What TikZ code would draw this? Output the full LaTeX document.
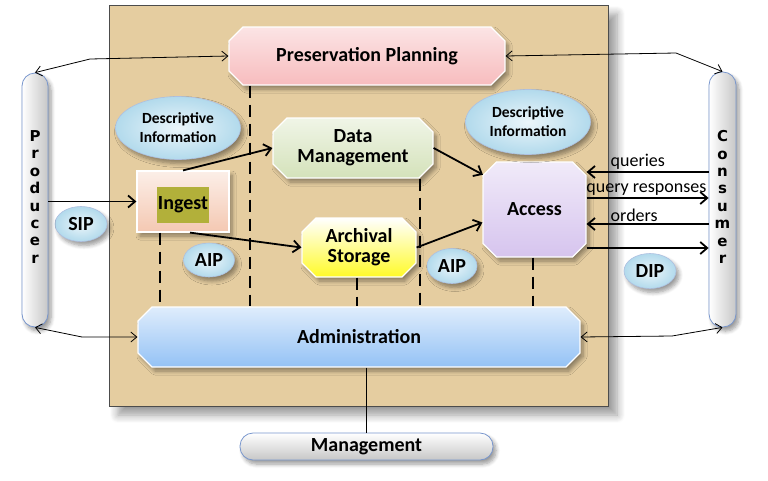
\documentclass[tikz,border=0pt]{standalone}
\usepackage{fontspec}
\setmainfont{Carlito}
\newfontfamily\lettersfont{DejaVu Sans}
\usetikzlibrary{shapes.misc,shapes.geometric,shadows.blur,arrows.meta}

\definecolor{sand}{RGB}{229,205,160}
\definecolor{pinkunit}{RGB}{247,188,190}
\definecolor{greenunit}{RGB}{212,226,186}
\definecolor{peachunit}{RGB}{244,200,178}
\definecolor{oliveunit}{RGB}{178,176,58}
\definecolor{yellowunit}{RGB}{255,250,40}
\definecolor{lilacunit}{RGB}{214,196,238}
\definecolor{blueunit}{RGB}{148,194,245}
\definecolor{bubble}{RGB}{178,218,236}
\definecolor{rim}{RGB}{120,150,205}

\tikzset{
    centered/.style = { align=center, anchor=center },
  softshadow/.style = { blur shadow={shadow xshift=3pt, shadow yshift=-4pt,
                        shadow blur steps=6, shadow blur radius=4pt} },
       panel/.style = { draw=black!70, line width=0.8pt, fill=sand,
                        blur shadow={shadow xshift=9pt, shadow yshift=-9pt,
                        shadow blur steps=8, shadow blur radius=8pt} },
        unit/.style = { chamfered rectangle, chamfered rectangle xsep=7pt,
                        chamfered rectangle ysep=7pt, draw=white, line width=1.2pt,
                        inner sep=0pt, font=\bfseries\fontsize{20}{22}\selectfont,
                        centered, softshadow },
      bubble/.style = { ellipse, draw=rim!60, line width=0.6pt, inner sep=0pt,
                        inner color=bubble!25!white, outer color=bubble,
                        font=\bfseries, centered, softshadow },
       actor/.style = { rectangle, rounded corners=13pt, draw=rim, line width=0.8pt,
                        left color=white, right color=black!22, softshadow },
     letters/.style = { font=\lettersfont\bfseries\fontsize{15}{17.4}\selectfont,
                        align=center, inner sep=0pt },
        link/.style = { line width=0.8pt,
                        {Straight Barb[length=6pt,width=10pt]}-{Straight Barb[length=6pt,width=10pt]} },
        flow/.style = { line width=1.8pt, -{Straight Barb[length=7pt,width=12pt]} },
     divider/.style = { line width=1.8pt, dash pattern=on 12pt off 7pt },
         lbl/.style = { font=\fontsize{18}{20}\selectfont, inner sep=1.5pt },
}

\begin{document}
\begin{tikzpicture}[x=1pt, y=-1pt]
  \useasboundingbox (0,0) rectangle (768,480);

  % the archive
  \node [panel, minimum width=499pt, minimum height=401pt] (oais) at (358.5,205.5) {};

  % functional entities
  \node [unit, top color=pinkunit!40!white, bottom color=pinkunit,
         minimum width=276pt, minimum height=58pt] (plan) at (367,56) {Preservation Planning};
  \node [unit, top color=greenunit!35!white, bottom color=greenunit,
         minimum width=160pt, minimum height=60pt] (dm) at (353,148) {Data\\[-2pt]Management};
  \node [unit, top color=peachunit!30!white, bottom color=peachunit,
         minimum width=92pt, minimum height=61pt] (ingest) at (183,201.5) {};
  \node [fill=oliveunit, font=\bfseries\fontsize{20}{22}\selectfont, inner sep=0pt,
         minimum width=52pt, minimum height=36pt] (ingestlbl) at (183,205) {Ingest};
  \node [unit, top color=white, bottom color=yellowunit,
         minimum width=114pt, minimum height=59pt] (as) at (359,247.5) {Archival\\[-2pt]Storage};
  \node [unit, top color=lilacunit!35!white, bottom color=lilacunit,
         minimum width=103pt, minimum height=95pt] (access) at (534.5,209.5) {Access};
  \node [unit, top color=blueunit!30!white, bottom color=blueunit,
         minimum width=442pt, minimum height=60pt] (admin) at (359,337) {Administration};

  % information packages
  \node [bubble, font=\bfseries\fontsize{15.5}{19}\selectfont,
         minimum width=125pt, minimum height=63pt] (descl) at (178,128) {Descriptive\\Information};
  \node [bubble, font=\bfseries\fontsize{15.5}{19}\selectfont,
         minimum width=125pt, minimum height=65pt] (descr) at (528,122) {Descriptive\\Information};
  \node [bubble, font=\bfseries\fontsize{20}{22}\selectfont,
         minimum width=52pt, minimum height=35pt] (sip) at (81,224) {SIP};
  \node [bubble, font=\bfseries\fontsize{20}{22}\selectfont,
         minimum width=51pt, minimum height=34pt] (aipl) at (209,260) {AIP};
  \node [bubble, font=\bfseries\fontsize{20}{22}\selectfont,
         minimum width=50pt, minimum height=35pt] (aipr) at (452,266) {AIP};
  \node [bubble, font=\bfseries\fontsize{20}{22}\selectfont,
         minimum width=52pt, minimum height=35pt] (dip) at (650,271) {DIP};

  % outside the archive
  \node [actor, minimum width=26pt, minimum height=254pt] (prod) at (35,200) {};
  \node [letters] (prodtxt) at (35,197) {P\\r\\o\\d\\u\\c\\e\\r};
  \node [actor, minimum width=27pt, minimum height=255pt] (cons) at (722.5,199.5) {};
  \node [letters] (constxt) at (722.5,197) {C\\o\\n\\s\\u\\m\\e\\r};
  \node [actor, top color=white, bottom color=black!22, minimum width=253pt,
         minimum height=27pt, font=\bfseries\fontsize{20}{22}\selectfont] (mgmt) at (366.5,446.5) {Management};

  % boundaries between the entities
  \foreach \top/\x in {plan/250, ingest/160, dm/420, as/357, access/533}
    \draw [divider] (\x,0 |- \top.south) -- (\x,0 |- admin.north);
  \draw [line width=1.5pt] (admin.south -| mgmt.north) -- (mgmt.north);

  % links to producer and consumer
  \coordinate (bendtl) at (90,59);
  \coordinate (bendtr) at (676,53);
  \coordinate (bendbl) at (82,337);
  \coordinate (bendbr) at (672,336);
  \draw [link] (prod.north) -- (bendtl) -- (plan.west);
  \draw [link] (plan.east) -- (bendtr) -- (cons.north);
  \draw [link] (prod.south) -- (bendbl) -- (admin.west);
  \draw [link] (admin.east) -- (bendbr) -- (cons.south);

  % flows
  \draw [flow] (prod.east |- ingest.west) -- (ingest.west);
  \draw [flow] (ingest.north) -- (dm.west);
  \draw [flow] ([xshift=7pt]ingest.south) -- (as.west);
  \draw [flow] (dm.east) -- (access.146);
  \draw [flow] (as.east) -- (access.194);

  \foreach \dy/\row in {37.5/queries, 11.5/responses, -14.5/orders, -38.5/delivery}
    \coordinate (\row) at ([yshift=\dy pt]access.east);
  \draw [flow] (cons.west |- queries) -- node [lbl, above, pos=0.58] (lblq) {queries} (queries);
  \draw [flow] (responses) -- node [lbl, above, pos=0.49] (lblr) {query responses} (cons.west |- responses);
  \draw [flow] (cons.west |- orders) -- node [lbl, above, pos=0.61] (lblo) {orders} (orders);
  \draw [flow] (delivery) -- (cons.west |- delivery);
\end{tikzpicture}
\end{document}
